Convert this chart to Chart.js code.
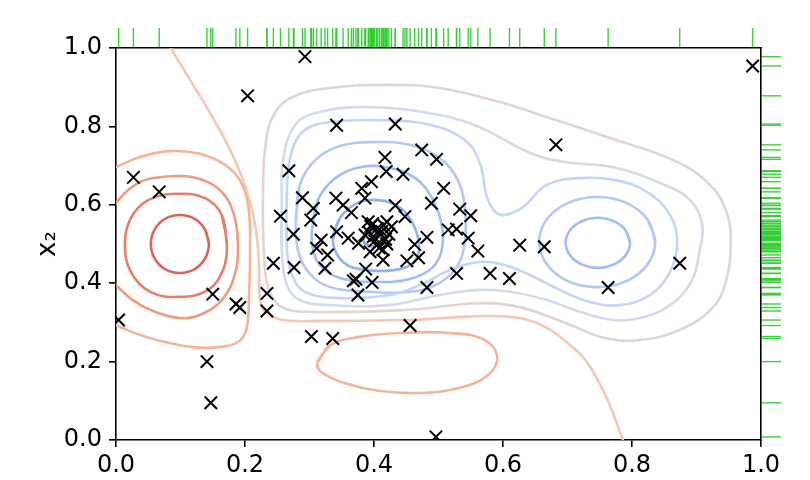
<!DOCTYPE html>
<html>
<head>
<meta charset="utf-8">
<script src="https://cdn.jsdelivr.net/npm/chart.js@4.4.1/dist/chart.umd.min.js"></script>
<style>
  html, body { margin: 0; padding: 0; background: #fff; }
  #wrap { width: 810px; height: 480px; }
</style>
</head>
<body>
<div id="wrap"><canvas id="chart" width="810" height="480"></canvas></div>
<script>
// --- samples (x1, x2) ---
const sampleX = [0.293, 0.204, 0.342, 0.433, 0.682, 0.987, 0.027, 0.067, 0.268, 0.417,
  0.474, 0.497, 0.419, 0.445, 0.396, 0.381, 0.508, 0.289, 0.386, 0.341,
  0.352, 0.306, 0.433, 0.489, 0.365, 0.255, 0.533, 0.550, 0.302, 0.391,
  0.448, 0.420, 0.427, 0.275, 0.515, 0.528, 0.546, 0.482, 0.342, 0.318,
  0.360, 0.376, 0.399, 0.409, 0.404, 0.414, 0.394, 0.311, 0.328, 0.561,
  0.463, 0.451, 0.469, 0.414, 0.244, 0.276, 0.324, 0.387, 0.528, 0.580,
  0.368, 0.397, 0.482, 0.375, 0.234, 0.234, 0.456, 0.626, 0.664, 0.610,
  0.763, 0.874, 0.004, 0.150, 0.186, 0.192, 0.141, 0.147, 0.303, 0.336,
  0.496, 0.372, 0.398, 0.405, 0.412, 0.401, 0.418, 0.392, 0.386, 0.423,
  0.408, 0.420, 0.395, 0.415];
const sampleY = [0.978, 0.878, 0.803, 0.806, 0.753, 0.954, 0.670, 0.633, 0.687, 0.721,
  0.740, 0.716, 0.685, 0.678, 0.659, 0.642, 0.642, 0.618, 0.617, 0.617,
  0.599, 0.591, 0.598, 0.604, 0.580, 0.571, 0.589, 0.572, 0.561, 0.557,
  0.570, 0.557, 0.544, 0.525, 0.536, 0.538, 0.515, 0.517, 0.531, 0.510,
  0.515, 0.502, 0.519, 0.527, 0.497, 0.485, 0.480, 0.489, 0.472, 0.482,
  0.499, 0.457, 0.465, 0.459, 0.451, 0.440, 0.438, 0.436, 0.425, 0.425,
  0.406, 0.402, 0.389, 0.370, 0.374, 0.329, 0.292, 0.497, 0.493, 0.412,
  0.389, 0.451, 0.306, 0.372, 0.347, 0.338, 0.200, 0.095, 0.264, 0.259,
  0.008, 0.410, 0.552, 0.540, 0.532, 0.508, 0.512, 0.530, 0.523, 0.525,
  0.490, 0.500, 0.545, 0.548];

// --- contour lines, as [x1, x2] pairs ---
const redPeak1 = [[.144,.500],[.138,.537],[.122,.564],[.099,.574],[.076,.564],[.060,.537],
  [.054,.500],[.060,.463],[.076,.436],[.099,.426],[.122,.436],[.138,.463]];
const redPeak2 = [[.172,.497],[.164,.574],[.138,.617],[.093,.628],[.050,.612],[.023,.566],
  [.014,.497],[.023,.429],[.053,.378],[.099,.365],[.143,.383],[.166,.434]];
const redPeak3 = [[.000,.605],[.019,.638],[.045,.663],[.087,.673],[.130,.666],[.164,.633],
  [.183,.574],[.189,.497],[.184,.421],[.164,.357],[.130,.319],[.099,.311],[.060,.327],
  [.026,.357],[.000,.395]];
const redPeak4 = [[.000,.696],[.037,.722],[.084,.737],[.130,.730],[.169,.702],[.192,.663],
  [.205,.599],[.208,.497],[.206,.357],[.202,.281],[.189,.250],[.161,.237],[.119,.237],
  [.068,.253],[.029,.273],[.000,.293]];
const redBump = [[.312,.196],[.332,.242],[.378,.263],[.440,.273],[.518,.273],[.572,.255],
  [.591,.212],[.577,.166],[.533,.133],[.471,.120],[.409,.125],[.355,.145],[.319,.173]];
const redOuter = [[.085,1.000],[.115,.918],[.146,.834],[.177,.740],[.197,.663],[.211,.587],
  [.219,.510],[.222,.434],[.223,.362],[.231,.327],[.259,.306],[.316,.304],[.451,.306],
  [.564,.316],[.626,.311],[.668,.286],[.704,.242],[.730,.199],[.760,.110],[.786,.000]];
const midWarm = [[.231,.434],[.228,.536],[.228,.638],[.231,.740],[.242,.821],[.270,.872],
  [.332,.898],[.425,.906],[.502,.898],[.595,.862],[.673,.821],[.761,.773],[.864,.714],
  [.921,.651],[.947,.579],[.953,.503],[.946,.408],[.926,.339],[.874,.281],[.812,.255],
  [.758,.260],[.693,.301],[.626,.339],[.564,.349],[.451,.332],[.296,.327],[.257,.339],[.239,.375]];
const midCool = [[.257,.485],[.257,.612],[.259,.714],[.278,.804],[.316,.837],[.397,.849],
  [.502,.829],[.564,.798],[.642,.732],[.696,.709],[.771,.696],[.843,.656],[.890,.612],
  [.909,.548],[.905,.485],[.893,.408],[.859,.344],[.812,.311],[.771,.306],[.719,.327],
  [.668,.357],[.611,.378],[.564,.383],[.502,.370],[.422,.344],[.332,.344],[.285,.357],[.265,.395]];
const bothBasins = [[.265,.485],[.265,.638],[.273,.740],[.293,.791],[.332,.811],[.409,.816],
  [.487,.804],[.541,.765],[.564,.707],[.575,.620],[.588,.582],[.603,.574],[.631,.594],
  [.668,.651],[.719,.668],[.774,.663],[.823,.633],[.859,.574],[.870,.503],[.859,.429],
  [.828,.370],[.781,.344],[.735,.352],[.688,.383],[.642,.421],[.603,.446],[.564,.454],
  [.518,.434],[.471,.395],[.425,.370],[.347,.362],[.293,.378],[.273,.421]];
const blueLeft4 = [[.279,.561],[.285,.651],[.309,.714],[.347,.750],[.402,.760],[.456,.753],
  [.502,.719],[.530,.663],[.541,.587],[.541,.510],[.530,.446],[.502,.401],[.456,.378],
  [.394,.378],[.332,.390],[.298,.429],[.282,.485]];
const blueLeft3 = [[.304,.536],[.313,.612],[.340,.668],[.378,.696],[.425,.694],[.464,.668],
  [.490,.617],[.505,.548],[.505,.485],[.490,.439],[.456,.411],[.402,.403],[.347,.413],
  [.316,.446],[.305,.490]];
const blueLeft2 = [[.336,.510],[.347,.566],[.375,.605],[.406,.612],[.437,.597],[.459,.556],
  [.470,.497],[.462,.454],[.433,.434],[.386,.434],[.352,.454]];
const blueLeft1 = [[.411,.513],[.409,.523],[.404,.529],[.397,.532],[.390,.529],[.385,.523],
  [.383,.513],[.385,.504],[.390,.497],[.397,.494],[.404,.497],[.409,.504]];
const blueRight4 = [[.836,.505],[.824,.563],[.791,.605],[.746,.620],[.701,.605],[.668,.563],
  [.656,.505],[.668,.448],[.701,.405],[.746,.390],[.791,.405],[.824,.448]];
const blueRight3 = [[.797,.503],[.790,.535],[.772,.558],[.747,.567],[.722,.558],[.704,.535],
  [.697,.503],[.704,.471],[.722,.448],[.747,.439],[.772,.448],[.790,.471]];

const contourLines = [redPeak1, redPeak2, redPeak3, redPeak4, redBump, redOuter, midWarm,
  midCool, bothBasins, blueLeft4, blueLeft3, blueLeft2, blueLeft1, blueRight4, blueRight3];
const contourClosed = [true, true, false, false, true, false, true,
  true, true, true, true, true, true, true, true];
const contourColors = ['#d8665a', '#e58068', '#ee9b80', '#f4b39a', '#f4b39a', '#f6c7b3', '#e2d5cf',
  '#d3dbeb', '#c4d6f7', '#b2c9f8', '#a1bdf7', '#91b1f5', '#82a5f2', '#b2c9f8', '#a1bdf7'];

const X_TICK_LABELS = ['0.0', '0.2', '0.4', '0.6', '0.8', '1.0'];
const Y_TICK_LABELS = ['0.0', '0.2', '0.4', '0.6', '0.8', '1.0'];
const Y_TITLE = 'x\u2082';

const RUG_COLOR = 'rgba(50,205,50,0.95)';
const RUG_LEN = 20;

// rug of the samples along the top and right spines
const rugPlugin = {
  id: 'rug',
  afterDatasetsDraw(chart) {
    const { ctx, chartArea, scales } = chart;
    ctx.save();
    ctx.strokeStyle = RUG_COLOR;
    ctx.lineWidth = 1.4;
    sampleX.forEach(v => {
      const px = scales.x.getPixelForValue(v);
      ctx.beginPath();
      ctx.moveTo(px, chartArea.top - RUG_LEN);
      ctx.lineTo(px, chartArea.top - 1);
      ctx.stroke();
    });
    sampleY.forEach(v => {
      const py = scales.y.getPixelForValue(v);
      ctx.beginPath();
      ctx.moveTo(chartArea.right + 1, py);
      ctx.lineTo(chartArea.right + RUG_LEN, py);
      ctx.stroke();
    });
    ctx.restore();
  }
};

function toPoints(arr, closed) {
  const pts = arr.map(p => ({ x: p[0], y: p[1] }));
  if (closed) {
    // close the loop, overlapping one segment so the bezier join stays smooth
    pts.push(pts[0], pts[1]);
  }
  return pts;
}

const datasets = [{
  label: 'samples',
  data: sampleX.map((x, i) => ({ x, y: sampleY[i] })),
  pointStyle: 'crossRot',
  pointRadius: 8.8,
  pointBorderWidth: 2,
  pointBorderColor: '#000',
  pointBackgroundColor: '#000',
  showLine: false,
  order: 0
}];

contourLines.forEach((line, i) => {
  datasets.push({
    label: 'contour' + i,
    data: toPoints(line, contourClosed[i]),
    showLine: true,
    pointRadius: 0,
    borderColor: contourColors[i],
    borderWidth: 2.6,
    tension: 0.4,
    borderCapStyle: 'round',
    borderJoinStyle: 'round',
    fill: false,
    order: 1
  });
});

Chart.defaults.font.family = 'DejaVu Sans';
Chart.defaults.color = '#000';

const axisBorder = { display: true, color: '#000', width: 1.6 };

new Chart(document.getElementById('chart'), {
  type: 'scatter',
  data: { datasets },
  options: {
    responsive: false,
    animation: false,
    devicePixelRatio: 1,
    events: [],
    layout: { padding: { left: 0, right: 49, top: 48, bottom: 0 } },
    plugins: { legend: { display: false }, tooltip: { enabled: false } },
    scales: {
      x: {
        type: 'linear', position: 'bottom', min: 0, max: 1,
        ticks: {
          stepSize: 0.2, autoSkip: false, maxRotation: 0, padding: 4,
          font: { size: 24 },
          callback: (v, i) => X_TICK_LABELS[i]
        },
        grid: { display: true, drawOnChartArea: false, drawTicks: true, tickLength: 7, tickColor: '#000', lineWidth: 1.6 },
        border: axisBorder,
        afterFit: s => { s.height = 40; }
      },
      y: {
        type: 'linear', position: 'left', min: 0, max: 1,
        ticks: {
          stepSize: 0.2, autoSkip: false, padding: 7,
          font: { size: 24 },
          callback: (v, i) => Y_TICK_LABELS[i]
        },
        title: { display: true, text: Y_TITLE, font: { size: 26 }, padding: { top: 33, bottom: 0 } },
        grid: { display: true, drawOnChartArea: false, drawTicks: true, tickLength: 7, tickColor: '#000', lineWidth: 1.6 },
        border: axisBorder,
        afterFit: s => { s.width = 116; }
      },
      xTop: {
        type: 'linear', position: 'top', min: 0, max: 1,
        ticks: { display: false },
        grid: { display: true, drawOnChartArea: false, drawTicks: false },
        border: axisBorder,
        afterFit: s => { s.height = 0; }
      },
      yRight: {
        type: 'linear', position: 'right', min: 0, max: 1,
        ticks: { display: false },
        grid: { display: true, drawOnChartArea: false, drawTicks: false },
        border: axisBorder,
        afterFit: s => { s.width = 0; }
      }
    }
  },
  plugins: [rugPlugin]
});
</script>
</body>
</html>
